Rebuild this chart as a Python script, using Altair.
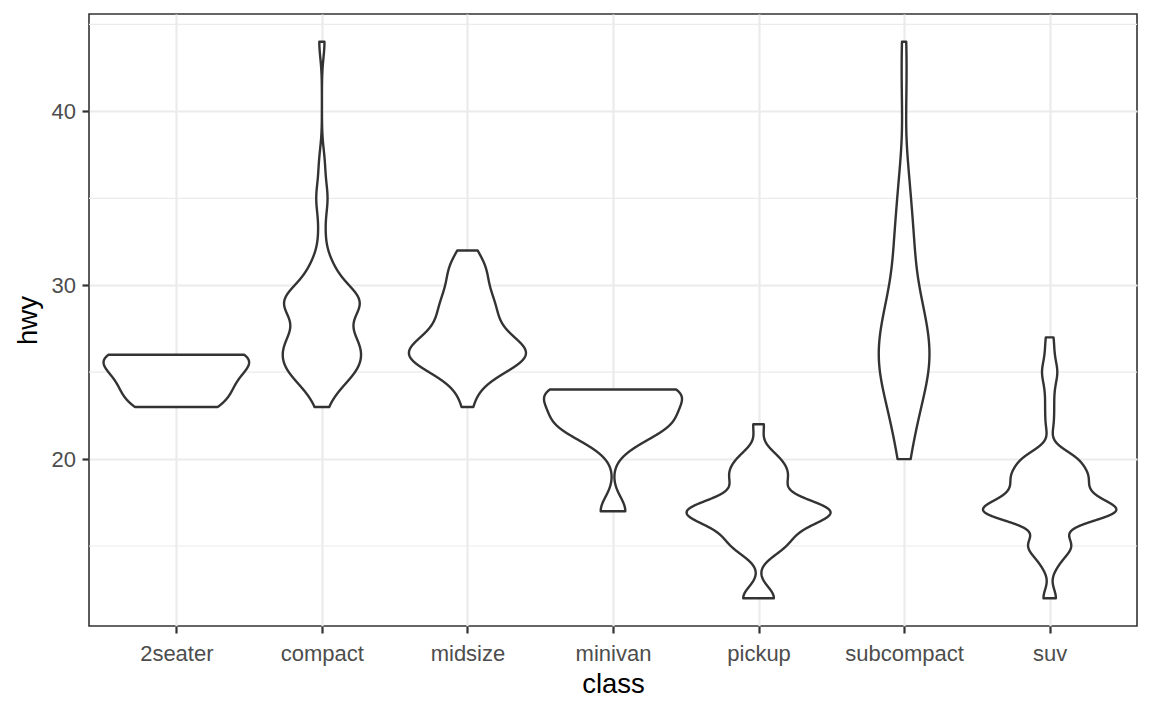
import json
import altair as alt
import pandas as pd

# ---- data (mpg: highway mileage by vehicle class) ----
classes = ["2seater", "compact", "midsize", "minivan", "pickup", "subcompact", "suv"]

hwy_2seater = [26, 23, 26, 25, 24]
hwy_compact = [29, 29, 31, 30, 26, 26, 27, 26, 25, 28, 27, 25, 25, 25, 25, 29, 27,
               25, 27, 25, 27, 27, 29, 31, 31, 26, 26, 27, 30, 33, 35, 37, 35,
               29, 26, 29, 29, 24, 44, 29, 26, 29, 29, 29, 29, 23, 24]
hwy_midsize = [24, 25, 23, 27, 30, 26, 29, 26, 26, 27, 30, 31, 26, 26, 28,
               31, 32, 27, 26, 26, 25, 25, 26, 26, 27, 28, 25, 29, 27, 31, 31,
               26, 26, 28, 29, 29, 28, 29, 26, 26, 26]
hwy_minivan = [24, 24, 22, 22, 24, 24, 17, 22, 21, 23, 23]
hwy_pickup = [19, 18, 17, 17, 19, 19, 12, 17, 15, 16, 12, 17, 17, 12, 17, 15, 16,
              17, 15, 17, 17, 16, 16, 17, 15, 17, 20, 20, 22, 17, 19, 18, 20]
hwy_subcompact = [26, 25, 26, 24, 21, 22, 23, 22, 20, 33, 32, 32, 29, 32, 34, 36,
                  36, 29, 26, 29, 28, 27, 24, 24, 24, 26, 26, 26, 26, 44, 41, 29,
                  26, 28, 29]
hwy_suv = [20, 15, 20, 17, 17, 19, 14, 15, 17, 17, 17, 12, 17, 16, 18, 15, 17, 17,
           18, 17, 19, 17, 19, 19, 17, 22, 19, 20, 17, 12, 19, 18, 14, 15, 18, 18,
           15, 17, 16, 18, 17, 19, 19, 17, 17, 17, 20, 18, 25, 24, 27, 25, 26, 23,
           20, 20, 19, 17, 20, 17, 15, 18]

series = [hwy_2seater, hwy_compact, hwy_midsize, hwy_minivan,
          hwy_pickup, hwy_subcompact, hwy_suv]

y_major = [20, 30, 40]
y_minor = [15, 25, 35, 45]

rows = []
for i, (c, vals) in enumerate(zip(classes, series)):
    for v in vals:
        rows.append({"cls": c, "idx": i + 1, "hwy": v})
df = pd.DataFrame(rows)

all_vals = [v for s in series for v in s]
vmin, vmax = min(all_vals), max(all_vals)
pad = 0.05 * (vmax - vmin)
ydomain = [vmin - pad, vmax + pad]
xdomain = [1 - 0.6, len(classes) + 0.6]

FONT = "Liberation Sans"
GRID = "#EBEBEB"
DARK = "#333333"

xscale = alt.Scale(domain=xdomain, nice=False, zero=False)
yscale = alt.Scale(domain=ydomain, nice=False, zero=False)

label_expr = json.dumps(classes) + "[datum.value - 1]"

xaxis = alt.Axis(
    values=list(range(1, len(classes) + 1)), labelExpr=label_expr, title="class",
    grid=True, gridColor=GRID, gridWidth=2.2, domain=False,
    ticks=True, tickColor=DARK, tickWidth=2.2, tickSize=7,
    labelFont=FONT, labelFontSize=22, labelColor="#4D4D4D",
    labelBaseline="alphabetic", labelPadding=27, labelAlign="center",
    titleFont=FONT, titleFontSize=27.5, titleColor="black", titleFontWeight="normal",
    titleBaseline="alphabetic", titleY=66,
)
yaxis = alt.Axis(
    values=y_major, title="hwy",
    grid=True, gridColor=GRID, gridWidth=2.2, domain=False,
    ticks=True, tickColor=DARK, tickWidth=2.2, tickSize=7,
    labelFont=FONT, labelFontSize=22, labelColor="#4D4D4D", labelPadding=6.5,
    titleFont=FONT, titleFontSize=27.5, titleColor="black", titleFontWeight="normal",
    titleBaseline="alphabetic", titleX=-53,
)

minor = alt.Chart(pd.DataFrame({"m": y_minor})).mark_rule(
    color=GRID, strokeWidth=1.2
).encode(y=alt.Y("m:Q", scale=yscale, axis=yaxis))

violins = (
    alt.Chart(df)
    .transform_joinaggregate(
        sd="stdev(hwy)", q1="q1(hwy)", q3="q3(hwy)", n="count()",
        lo="min(hwy)", hi="max(hwy)", groupby=["cls", "idx"],
    )
    .transform_calculate(
        bw="0.9 * min(datum.sd, (datum.q3 - datum.q1) / 1.34) * pow(datum.n, -0.2)"
    )
    .transform_calculate(z="datum.hwy / datum.bw")
    .transform_density(
        "z", as_=["zv", "zd"], groupby=["cls", "idx", "bw", "lo", "hi"],
        extent=[5, 50], steps=4000, bandwidth=1,
    )
    .transform_calculate(yv="datum.zv * datum.bw", dv="datum.zd / datum.bw")
    .transform_filter(
        "datum.yv >= datum.lo - 0.012 * datum.bw && datum.yv <= datum.hi + 0.012 * datum.bw"
    )
    .transform_calculate(yc="clamp(datum.yv, datum.lo, datum.hi)")
    .transform_joinaggregate(md="max(dv)")
    .transform_calculate(
        xl="datum.idx - 0.5 * datum.dv / datum.md",
        xr="datum.idx + 0.5 * datum.dv / datum.md",
    )
    .mark_area(
        orient="horizontal", fill="white", stroke=DARK, strokeWidth=2.4,
        strokeJoin="round", interpolate="linear",
    )
    .encode(
        y=alt.Y("yc:Q", scale=yscale, axis=yaxis),
        x=alt.X("xl:Q", scale=xscale, axis=xaxis),
        x2="xr:Q",
        detail="cls:N",
    )
)

chart = (
    alt.layer(minor, violins)
    .properties(
        width=1048, height=612,
        autosize=alt.AutoSizeParams(type="none"),
        padding={"left": 81, "top": 6, "right": 7, "bottom": 80},
    )
    .configure(font=FONT)
    .configure_view(stroke=DARK, strokeWidth=1.6)
)

chart.save("out.html", embed_options={"renderer": "svg", "actions": False})
